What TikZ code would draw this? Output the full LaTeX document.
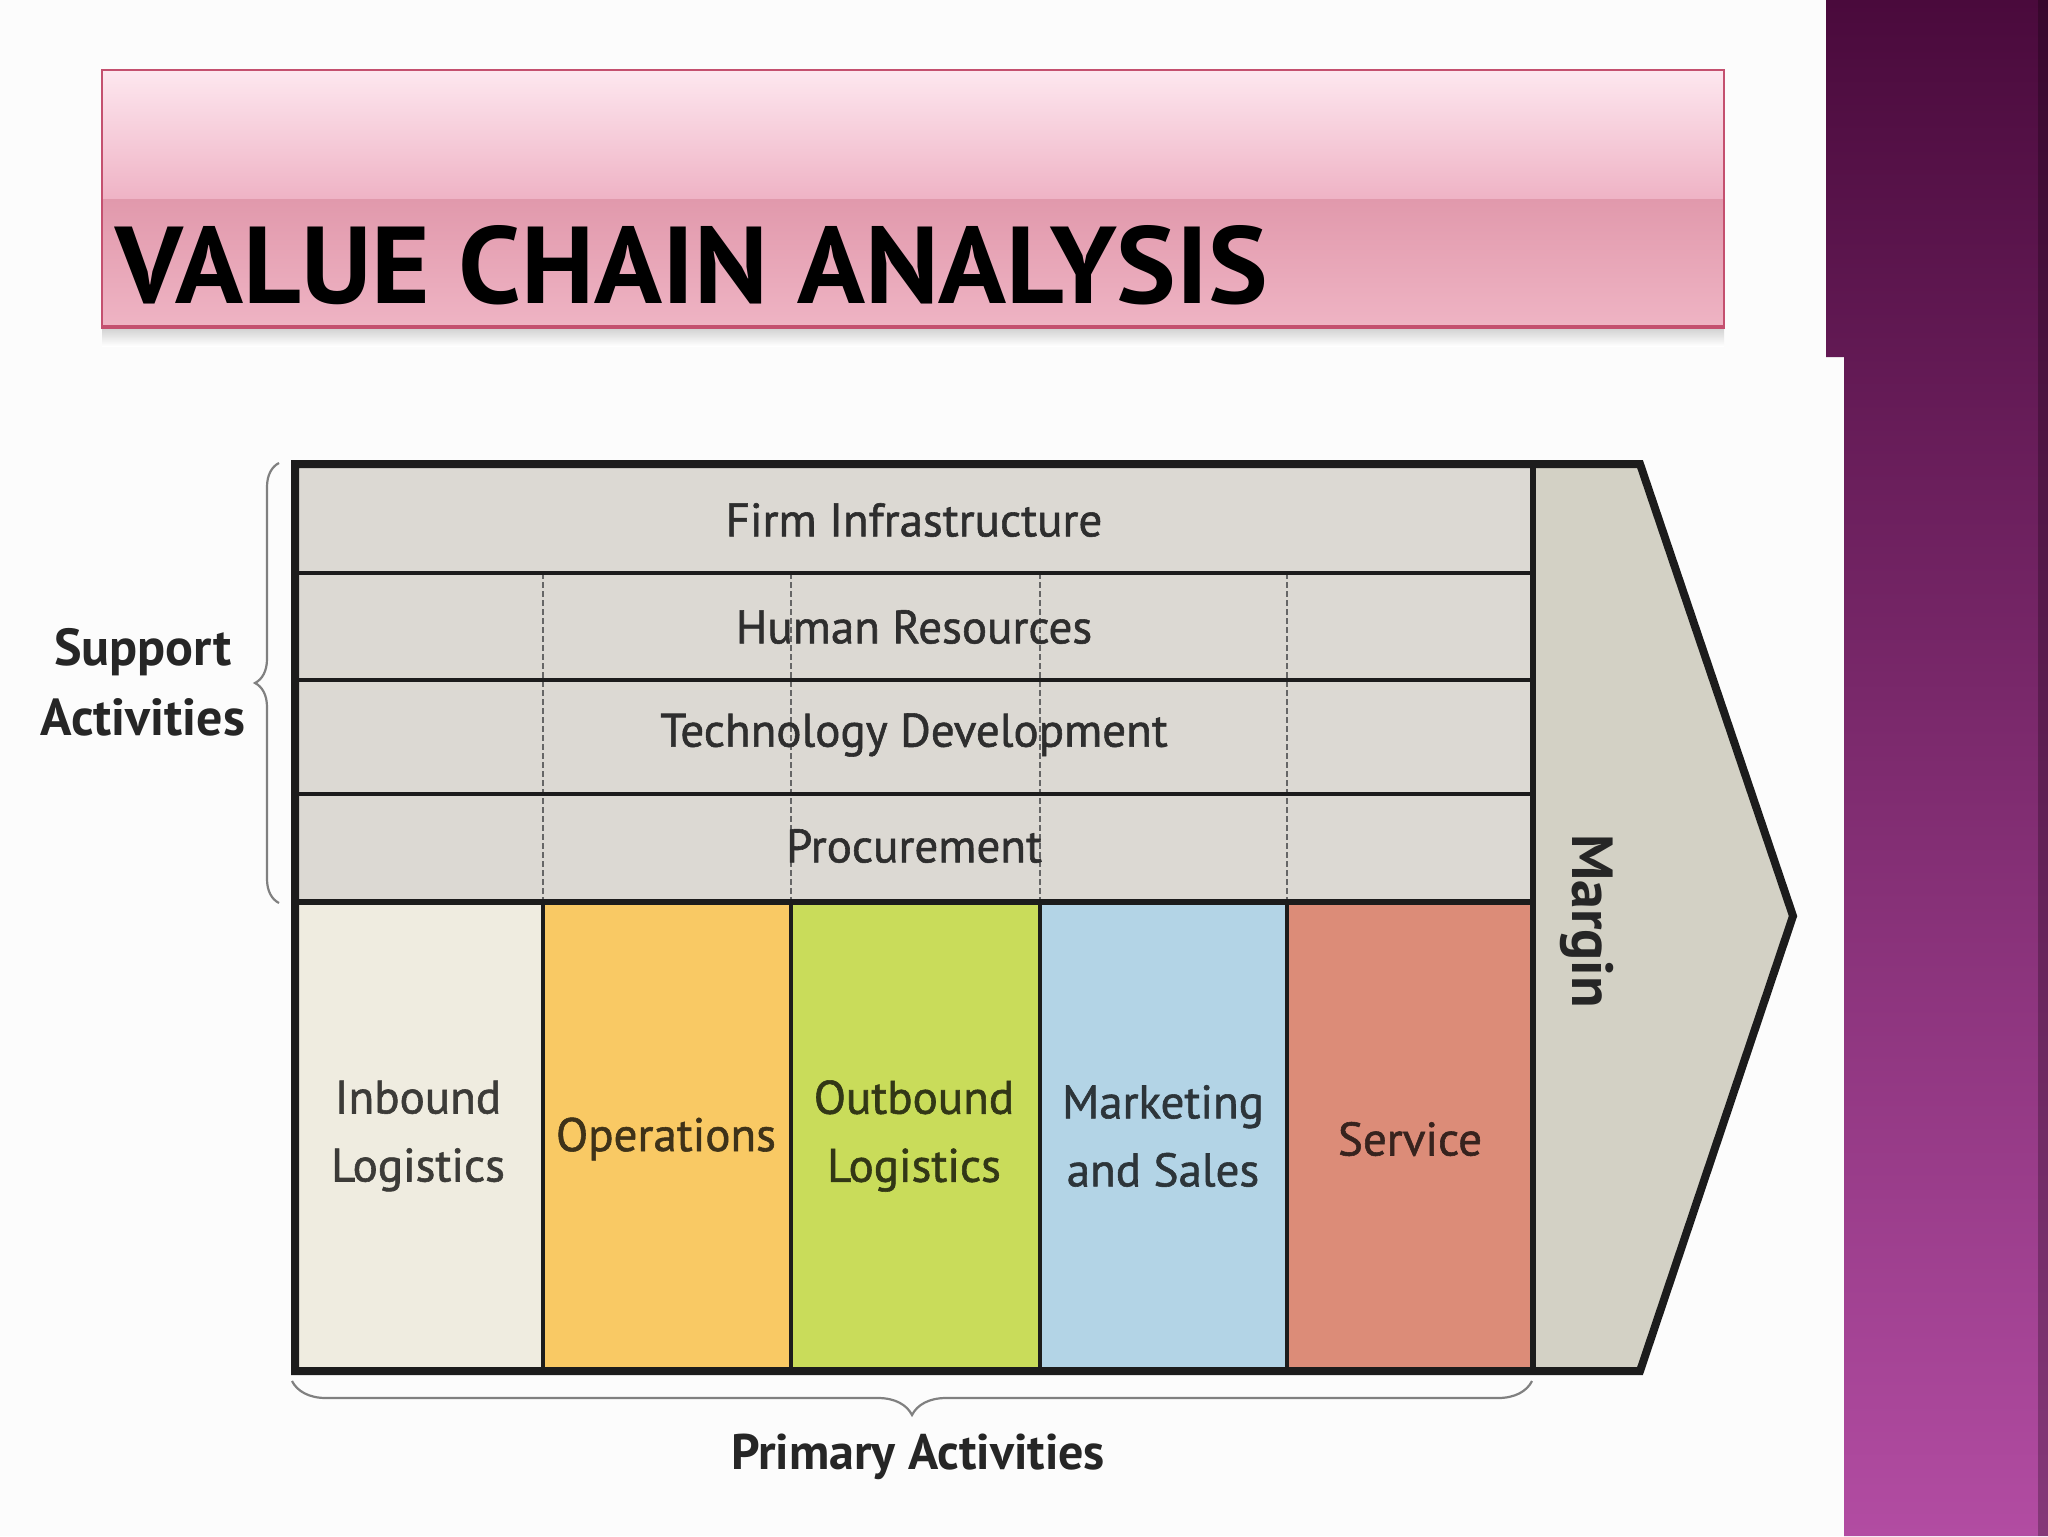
\documentclass[tikz,border=0pt]{standalone}
\usepackage{fontspec}
\setmainfont{PT Sans}
\newfontfamily\labelfont{PT Sans}[FakeBold=1.2]
\usepackage{graphicx}
\usetikzlibrary{decorations.pathreplacing}
\definecolor{supgray}{HTML}{DCD9D3}
\definecolor{margray}{HTML}{D3D1C5}
\definecolor{inbound}{HTML}{EFECE0}
\definecolor{operc}{HTML}{F9C964}
\definecolor{outc}{HTML}{C9DC5A}
\definecolor{mktc}{HTML}{B3D4E6}
\definecolor{servc}{HTML}{DC8C78}
\definecolor{linec}{HTML}{1C1C1C}
\definecolor{txtc}{HTML}{2E2E2E}
\definecolor{purtop}{HTML}{4A0A3C}
\definecolor{purmid}{HTML}{8A3A7C}
\definecolor{purbot}{HTML}{B24CA2}
\definecolor{pinkA}{HTML}{FDE7EF}
\definecolor{pinkB}{HTML}{EFB3C5}
\definecolor{pinkC}{HTML}{E199AC}
\definecolor{pinkD}{HTML}{EFB4C4}
\definecolor{pinkedge}{HTML}{C4506F}
\tikzset{
  suplabel/.style={font=\labelfont\fontsize{23.5}{27}\selectfont, text=txtc},
  primlabel/.style={font=\labelfont\fontsize{23.5}{34}\selectfont, align=center},
  boldlabel/.style={font=\bfseries\fontsize{25}{35}\selectfont, text=black!85, align=center},
  rowline/.style={draw=linec, line width=2.4pt},
  colline/.style={draw=linec, line width=1.8pt},
  dotline/.style={draw=black!60, line width=0.6pt, dash pattern=on 3pt off 1.5pt},
  bracec/.style={draw=black!50, line width=1.1pt, decorate}
}
\begin{document}
\begin{tikzpicture}[x=0.5pt,y=-0.5pt]
\useasboundingbox (0,0) rectangle (2048,1536);
\fill[white!99!black] (0,0) rectangle (2048,1536);
% purple sidebar
\shade[top color=purtop, middle color=purmid, bottom color=purbot]
  (1826,0) -- (2048,0) -- (2048,1536) -- (1844,1536) -- (1844,357) -- (1826,357) -- cycle;
\fill[black, opacity=0.25] (2038,0) rectangle (2048,1536);
% title box
\shade[top color=black!18, bottom color=white] (102,328) rectangle (1724,346);
\shade[top color=pinkA, bottom color=pinkB] (102,70) rectangle (1724,199);
\shade[top color=pinkC, bottom color=pinkD] (102,199) rectangle (1724,328);
\draw[pinkedge, line width=1pt] (102,70) rectangle (1724,328);
\draw[pinkedge, line width=2pt] (102,327) -- (1724,327);
\node[anchor=base west, inner sep=0pt] (title) at (115,303)
  {\resizebox{576pt}{39pt}{\bfseries VALUE CHAIN ANALYSIS}};
% diagram fills
\fill[supgray] (295,464) rectangle (1533,902);
\fill[margray] (1533,464) -- (1640,464) -- (1793,916) -- (1640,1371) -- (1533,1371) -- cycle;
\fill[inbound] (295,902) rectangle (543,1371);
\fill[operc] (543,902) rectangle (791,1371);
\fill[outc] (791,902) rectangle (1040,1371);
\fill[mktc] (1040,902) rectangle (1287,1371);
\fill[servc] (1287,902) rectangle (1533,1371);
% dotted separators in support rows
\foreach \xx in {543,791,1040,1287} { \draw[dotline] (\xx,573) -- (\xx,902); }
% row lines
\foreach \yy in {573,680,794} { \draw[rowline] (295,\yy) -- (1533,\yy); }
\draw[draw=linec, line width=3pt] (295,902) -- (1533,902);
% column lines
\foreach \xx in {543,791,1040,1287} { \draw[colline] (\xx,902) -- (\xx,1371); }
\draw[draw=linec, line width=2.6pt] (1533,464) -- (1533,1371);
% outer frame
\draw[draw=linec, line width=4pt, line join=miter]
  (295,464) -- (1640,464) -- (1793,916) -- (1640,1371) -- (295,1371) -- cycle;
% support labels
\node[suplabel] (firm) at (914,520) {Firm Infrastructure};
\node[suplabel] (hr) at (914,627) {Human Resources};
\node[suplabel] (tech) at (914,735) {Technology Development};
\node[suplabel] (proc) at (914,846) {Procurement};
% primary labels
\node[primlabel, text=inbound!25!black] (inb) at (418,1136) {Inbound\\Logistics};
\node[primlabel, text=operc!25!black] (ops) at (666,1139) {Operations};
\node[primlabel, text=outc!25!black] (outb) at (914,1136) {Outbound\\Logistics};
\node[primlabel, text=mktc!25!black] (mkt) at (1163,1136) {Marketing\\and Sales};
\node[primlabel, text=servc!25!black] (serv) at (1410,1139) {Service};
\node[boldlabel, font=\bfseries\fontsize{29}{35}\selectfont, rotate=-90] (margin) at (1587,921) {Margin};
% braces
\coordinate (sbTop) at (279,463);
\coordinate (sbBot) at (279,903);
\draw[bracec, decoration={brace, amplitude=12pt}] (sbBot) -- (sbTop);
\node[boldlabel, font=\bfseries\fontsize{26}{35}\selectfont] (support) at (143,682) {Support\\Activities};
\coordinate (pbL) at (292,1381);
\coordinate (pbR) at (1532,1381);
\draw[bracec, decoration={brace, amplitude=17pt}] (pbR) -- (pbL);
\node[boldlabel] (primary) at (918,1457) {Primary Activities};
\end{tikzpicture}
\end{document}
